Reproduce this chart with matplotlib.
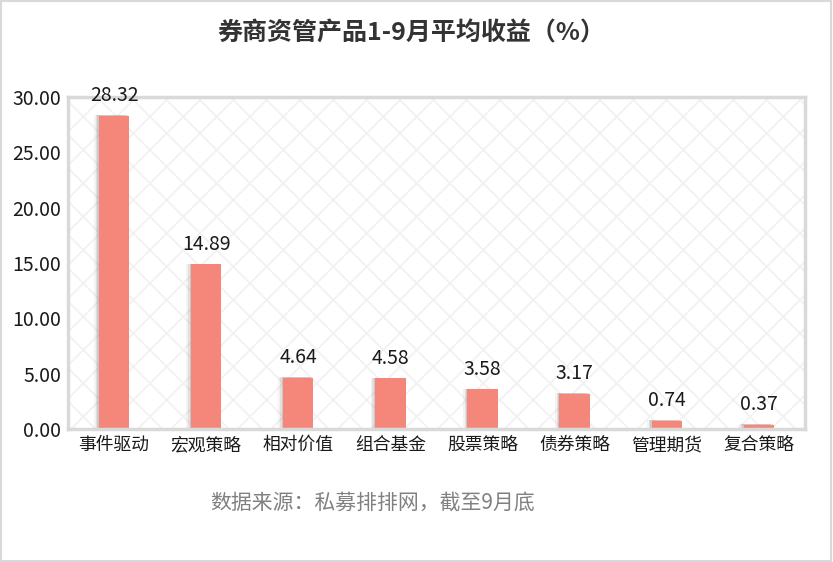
import numpy as np
import matplotlib.pyplot as plt
from matplotlib.patches import Rectangle

plt.rcParams['font.family'] = ['Noto Sans CJK SC', 'DejaVu Sans']
plt.rcParams['hatch.linewidth'] = 1.2

categories = ['事件驱动', '宏观策略', '相对价值', '组合基金', '股票策略', '债券策略', '管理期货', '复合策略']
returns = [28.32, 14.89, 4.64, 4.58, 3.58, 3.17, 0.74, 0.37]
yticks = [0, 5, 10, 15, 20, 25, 30]

bar_color = '#F4877A'

fig = plt.figure(figsize=(8.33, 5.62), dpi=100)
fig.patch.set_facecolor('white')
# outer frame
fig.add_artist(Rectangle((0.001, 0.002), 0.997, 0.996, transform=fig.transFigure,
                         fill=False, edgecolor='#D9D9D9', linewidth=1.5))

ax = fig.add_axes([0.0816, 0.2367, 0.8848, 0.5907])
x = np.arange(len(categories))

# hatched background
ax.add_patch(Rectangle((0, 0), 1, 1, transform=ax.transAxes, facecolor='white',
                       edgecolor='#F1F1F1', hatch='x', linewidth=0, zorder=0))

# soft shadow on the left of the bars
for dx, a in [(-0.05, 0.08), (-0.03, 0.14), (-0.015, 0.2)]:
    ax.bar(x + dx, [v + 0.05 for v in returns], width=0.33, color='#707070',
           alpha=a, zorder=1, linewidth=0)
ax.bar(x, returns, width=0.33, color=bar_color, zorder=2, linewidth=0)

for xi, v in zip(x, returns):
    ax.text(xi, v + 0.85, f'{v:.2f}', ha='center', va='bottom', fontsize=14,
            color='#1A1A1A')

ax.set_xlim(-0.5, len(categories) - 0.5)
ax.set_ylim(0, 30)
ax.set_yticks(yticks)
ax.set_yticklabels([f'{t:.2f}' for t in yticks], fontsize=14, color='#1A1A1A')
ax.set_xticks(x)
ax.set_xticklabels(categories, fontsize=12.8, color='#1A1A1A')
ax.tick_params(length=0, pad=5)
for s in ax.spines.values():
    s.set_color('#D9D9D9')
    s.set_linewidth(2.5)

fig.text(0.494, 0.941, '券商资管产品1-9月平均收益（%）', ha='center', va='center',
         fontsize=18, fontweight='bold', color='#333333')
fig.text(0.447, 0.104, '数据来源：私募排排网，截至9月底', ha='center', va='center',
         fontsize=15, color='#808080')

fig.savefig('out.png', dpi=100, facecolor='white')
